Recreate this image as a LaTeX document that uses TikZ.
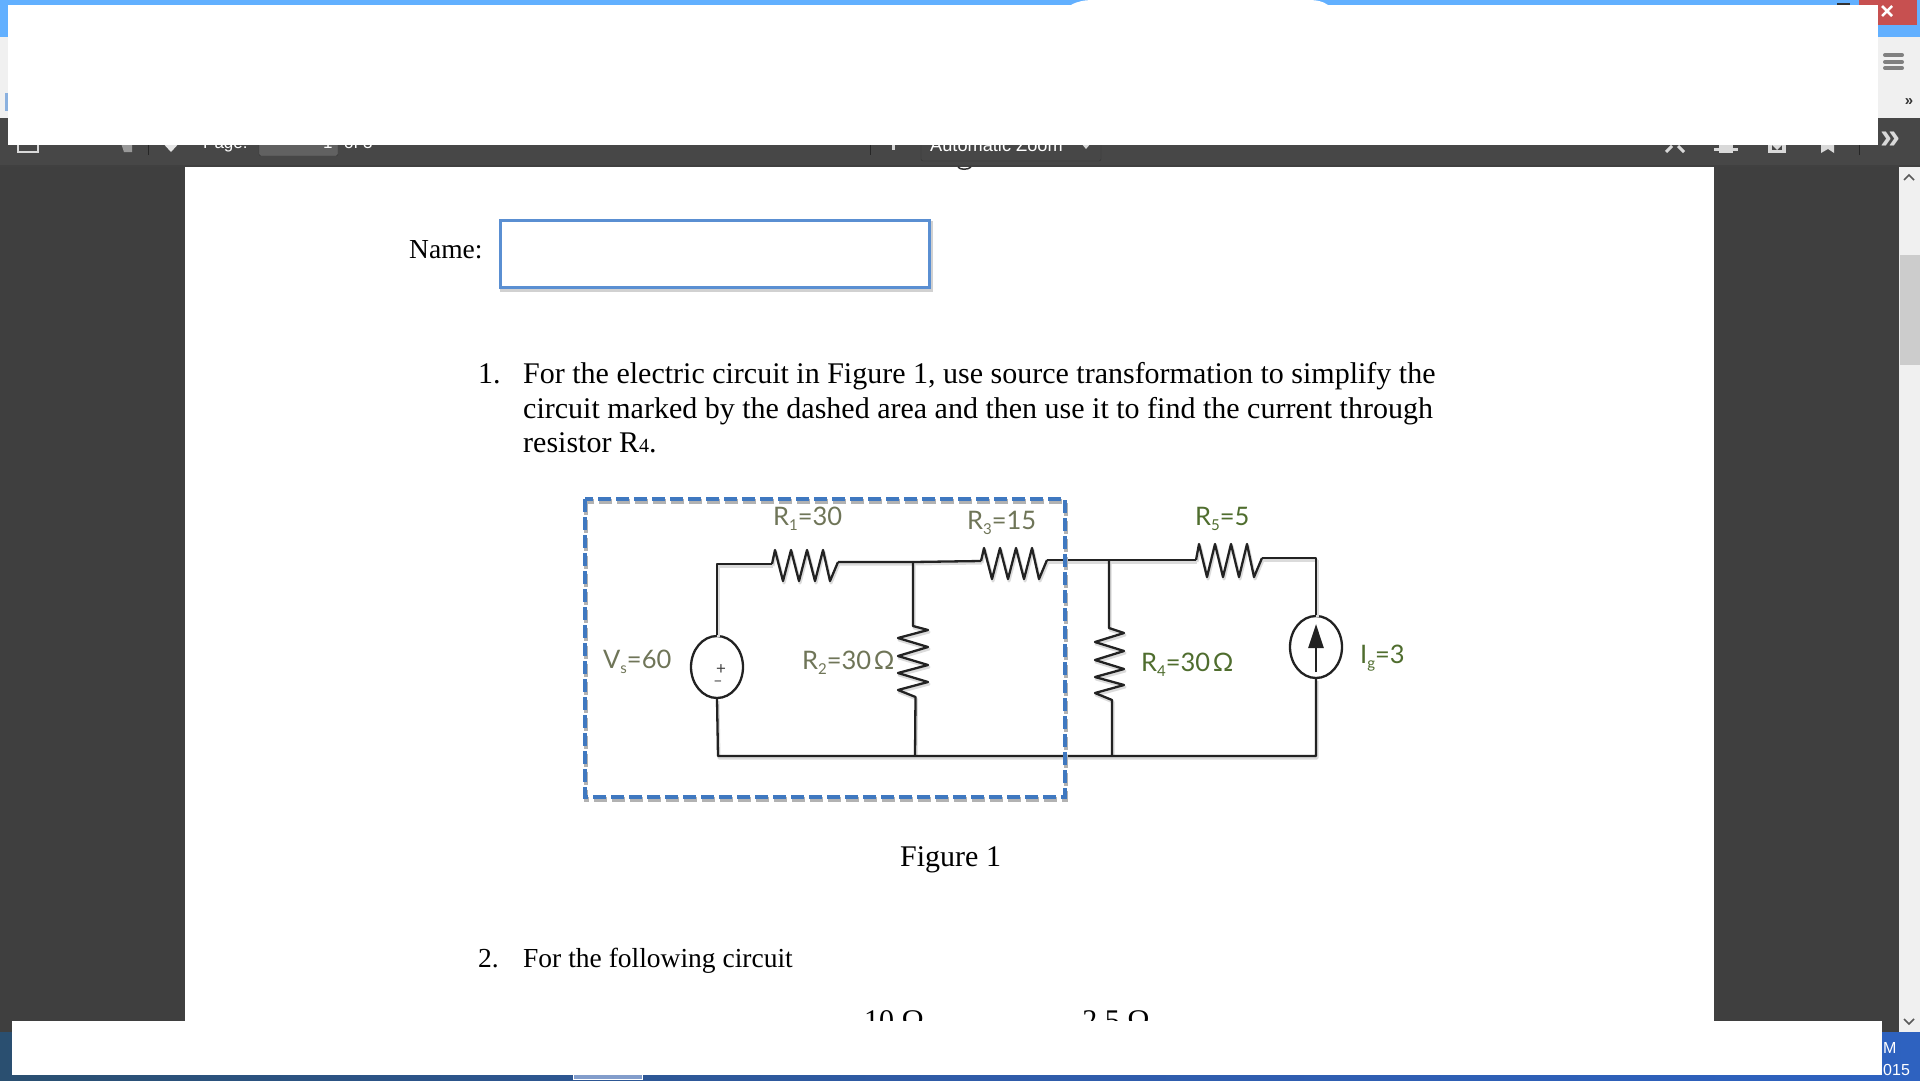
\documentclass[tikz,border=0pt]{standalone}
\usepackage{fontspec}
\setmainfont{Liberation Serif}
\newfontfamily\labelfont{Lato}
\newfontfamily\uifont{Liberation Sans}
\usetikzlibrary{shapes.geometric,arrows.meta}
\definecolor{titleblue}{HTML}{62B0FF}
\definecolor{chromegrey}{HTML}{F0F0F0}
\definecolor{toolbardark}{HTML}{474747}
\definecolor{viewerdark}{HTML}{3F3F3F}
\definecolor{closered}{HTML}{C75050}
\definecolor{dashblue}{HTML}{3F78C0}
\definecolor{boxblue}{HTML}{5A8FD2}
\definecolor{labelgrey}{HTML}{6F7558}
\definecolor{labelgreen}{HTML}{4F6D2E}
\definecolor{wirecol}{HTML}{222222}
\definecolor{taskleft}{HTML}{2A4F70}
\definecolor{taskmid}{HTML}{2F5BA8}
\definecolor{taskright}{HTML}{2E62C0}
\newcommand{\sbs}[1]{{\fontsize{15}{15}\selectfont\raisebox{-5pt}{#1}}}
\newcommand{\circuitwires}[1]{%
\draw[#1] (vs.north) -- (tl) -- (r1a);
\draw[#1] (r1a) -- ++(3,-14) -- ++(8,31) -- ++(8,-31) -- ++(8,31) -- ++(8,-31) -- ++(8,31) -- ++(8,-31) -- ++(7,31) -- (r1b);
\draw[#1] (r1b) -- (j2) -- (r3a);
\draw[#1] (r3a) -- ++(3,-13) -- ++(8,31) -- ++(8,-31) -- ++(8,31) -- ++(8,-31) -- ++(8,31) -- ++(8,-31) -- ++(7,31) -- (r3b);
\draw[#1] (r3b) -- (j4) -- (r5a);
\draw[#1] (r5a) -- ++(3,-16) -- ++(8,33) -- ++(8,-33) -- ++(8,33) -- ++(8,-33) -- ++(8,33) -- ++(8,-33) -- ++(7,33) -- (r5b);
\draw[#1] (r5b) -- (tr) -- (ig.north);
\draw[#1] (ig.south) -- (br) -- (bl) -- (vs.south);
\draw[#1] (j2) -- (913,626) -- (928,630) -- (898,638) -- (928,647) -- (898,656) -- (928,665) -- (898,673) -- (928,682) -- (898,690) -- (915.5,697) -- (b2);
\draw[#1] (j4) -- (1109,628) -- (1124,633) -- (1095,642) -- (1124,651) -- (1095,660) -- (1124,669) -- (1095,677) -- (1124,685) -- (1095,693) -- (1112,700) -- (b4);
}
\tikzset{
  doc/.style={anchor=base west,inner sep=0pt,font=\fontsize{30}{34}\selectfont,text=black},
  docsmall/.style={doc,font=\fontsize{27.5}{32}\selectfont},
  lbl/.style={anchor=base west,inner sep=0pt,font=\labelfont\fontsize{25.5}{28}\selectfont},
  ui/.style={anchor=base west,inner sep=0pt,font=\uifont\fontsize{17}{20}\selectfont,text=white},
  wire/.style={draw=wirecol,line width=2.3pt,line join=round},
  wireshadow/.style={draw=black!14,line width=3pt,line join=round,transform canvas={shift={(1pt,-2pt)}}},
  source/.style={ellipse,draw=wirecol,line width=2.3pt,minimum width=52pt,minimum height=62pt,inner sep=0pt,fill=white},
  mask/.style={fill=white,draw=none}
}
\begin{document}
\begin{tikzpicture}[x=1pt,y=-1pt]
\useasboundingbox (0,0) rectangle (1920,1080);
% window chrome
\fill[titleblue] (0,0) rectangle (1920,37);
\fill[white] (1071,5) .. controls (1078,1) and (1085,0) .. (1095,0) -- (1305,0) .. controls (1318,0) and (1322,1) .. (1328,5) -- cycle;
\fill[closered] (1859,0) rectangle (1917,25);
\draw[white,line width=2.5pt] (1882,6) -- (1892,16) (1892,6) -- (1882,16);
\fill[black!80] (1837,3) rectangle (1850,6);
\fill[chromegrey] (0,37) rectangle (1920,118);
\fill[boxblue!70] (5,93) rectangle (8,111);
\draw[black!50,line width=4pt,line cap=round] (1885,55) -- (1902,55) (1885,62) -- (1902,62) (1885,68) -- (1902,68);
\node[anchor=center,inner sep=0pt,font=\uifont\bfseries\fontsize{15}{15}\selectfont,text=black!80] (morechrome) at (1909,102) {\guillemotright};
% viewer
\fill[viewerdark] (0,167) rectangle (1920,1032);
\fill[toolbardark] (0,118) rectangle (1920,165);
\fill[black!75] (0,165) rectangle (1920,167);
\fill[black!75] (181,167) rectangle (185,1032);
\fill[black!75] (1714,167) rectangle (1718,1032);
\fill[white] (185,167) rectangle (1714,1032);
\fill[chromegrey] (1899,167) rectangle (1920,1032);
\fill[black!20] (1900,255) rectangle (1920,365);
\draw[black!65,line width=1.6pt] (1904,180) -- (1909,175) -- (1914,180);
\draw[black!65,line width=1.6pt] (1904,1019) -- (1909,1024) -- (1914,1019);
% toolbar pieces
\draw[white!85!black,line width=2pt] (18,140) rectangle (38,152);
\fill[black!40] (120,140) -- (132,140) -- (132,152) -- (124,152) -- cycle;
\draw[black!85,line width=1pt] (148,138) -- (148,155);
\fill[white!90!black] (160,140) -- (182,140) -- (171,152) -- cycle;
\node[ui] (pagelabel) at (203,148) {Page:};
\draw[black!80,fill=black!62,rounded corners=2pt] (259,130) rectangle (338,156);
\node[ui] (pagenum) at (323,148) {1};
\node[ui] (pageof) at (344,148) {of 3};
\draw[black!85,line width=1pt] (870,138) -- (870,155);
\fill[white!85!black] (892,138) rectangle (895,150);
\draw[black!80,rounded corners=2pt] (921,130) rectangle (1101,161);
\node[ui,font=\uifont\fontsize{18.2}{22}\selectfont] (zoomlabel) at (930,151) {Automatic Zoom};
\fill[white!85!black] (1081,143) -- (1091,143) -- (1086,149) -- cycle;
\draw[white!85!black,line width=3pt] (1666,152) -- (1672,146) (1684,152) -- (1678,146);
\fill[white!85!black] (1719,145) rectangle (1733,148);
\fill[white!85!black] (1714,148) rectangle (1738,151);
\fill[white!85!black] (1719,151) rectangle (1733,153);
\fill[white!85!black] (1768,145) rectangle (1772,153);
\fill[white!85!black] (1782,145) rectangle (1786,153);
\fill[white!85!black] (1768,150) rectangle (1786,153);
\fill[white!85!black] (1772,145) -- (1782,145) -- (1777,150) -- cycle;
\fill[white!85!black] (1821,145) -- (1834,145) -- (1834,153) -- (1828,149) -- (1821,153) -- cycle;
\draw[black!85,line width=1pt] (1859,138) -- (1859,155);
\node[anchor=center,inner sep=0pt,font=\uifont\bfseries\fontsize{36}{36}\selectfont,text=white!85!black] (moreviewer) at (1890,140) {\guillemotright};
% clipped glyph under the toolbar
\draw[black!80,line width=1.5pt] (958,167) .. controls (960,170) and (968,170) .. (971,167);
% document text
\node[docsmall] (nametext) at (409,258) {Name:};
\draw[black!18,line width=3pt] (501,222) rectangle (931,290);
\draw[boxblue,line width=3pt,fill=white] (500,220) rectangle (929,287);
\node[doc] (num1) at (478,383) {1.};
\node[doc] (line1) at (523,383) {For the electric circuit in Figure 1, use source transformation to simplify the};
\node[doc] (line2) at (523,418) {circuit marked by the dashed area and then use it to find the current through};
\node[doc] (line3) at (523,452) {resistor R{\fontsize{20}{20}\selectfont 4}.};
\node[doc] (figcap) at (900,866) {Figure 1};
\node[docsmall] (num2) at (478,967) {2.};
\node[docsmall] (line4) at (523,967) {For the following circuit};
\node[doc,anchor=base] (cut10) at (894,1030) {10 Ω};
\node[doc,anchor=base] (cut25) at (1116,1030) {2.5 Ω};
% circuit coordinates
\coordinate (tl) at (717,564);
\coordinate (r1a) at (772,564);
\coordinate (r1b) at (838,562);
\coordinate (j2) at (913,562);
\coordinate (r3a) at (981,561);
\coordinate (r3b) at (1047,560);
\coordinate (j4) at (1109,560);
\coordinate (r5a) at (1196,560);
\coordinate (r5b) at (1262,558);
\coordinate (tr) at (1316,558);
\coordinate (bl) at (718,756);
\coordinate (b2) at (915,756);
\coordinate (b4) at (1112,756);
\coordinate (br) at (1316,756);
\coordinate (boxtl) at (585,499);
\coordinate (boxbr) at (1065,797);
\node[source] (vs) at (717,667) {};
\node[source] (ig) at (1316,647) {};
% wires: soft shadow first, then the lines
\circuitwires{wireshadow}
\circuitwires{wire}
\draw[wirecol,line width=2.5pt,-{Triangle[length=24pt,width=15pt]}] (1316,672) -- (1316,624);
\node[inner sep=0pt,font=\labelfont\fontsize{17}{17}\selectfont,text=black!75] (plusmark) at (721,670) {+};
\node[inner sep=0pt,font=\labelfont\fontsize{15}{15}\selectfont,text=black!75] (minusmark) at (718,684) {\char"2212};
% dashed region
\draw[black!30,line width=4.6pt,dash pattern=on 13pt off 5pt] ([shift={(1,2.5)}]boxtl) rectangle ([shift={(1,2.5)}]boxbr);
\draw[dashblue,line width=4.6pt,dash pattern=on 13pt off 5pt] (boxtl) rectangle (boxbr);
% labels
\node[lbl,text=labelgrey] (lr1) at (773,525) {R\sbs{1}=30};
\node[lbl,text=labelgrey] (lr3) at (967,529) {R\sbs{3}=15};
\node[lbl,text=labelgrey] (lvs) at (603,668) {V\sbs{s}=60};
\node[lbl,text=labelgrey] (lr2) at (802,669) {R\sbs{2}=30\hspace{0.1em}Ω};
\node[lbl,text=labelgreen] (lr5) at (1195,525) {R\sbs{5}=5};
\node[lbl,text=labelgreen] (lr4) at (1141,671) {R\sbs{4}=30\hspace{0.1em}Ω};
\node[lbl,text=labelgreen] (lig) at (1360,663) {I\sbs{g}=3};
% taskbar
\shade[left color=taskleft,right color=taskright,middle color=taskmid] (0,1032) rectangle (1920,1080);
\fill[taskmid!60!white] (573,1070) rectangle (642,1079);
\draw[white,line width=0.8pt] (573,1070) rectangle (642,1079);
\node[ui,font=\uifont\fontsize{16}{18}\selectfont] (clock1) at (1883,1053) {M};
\node[ui,font=\uifont\fontsize{16}{18}\selectfont] (clock2) at (1883,1075) {015};
% white cover panels
\fill[mask] (8,5) rectangle (1878,145);
\fill[mask] (12,1021) rectangle (1882,1075);
\end{tikzpicture}
\end{document}
